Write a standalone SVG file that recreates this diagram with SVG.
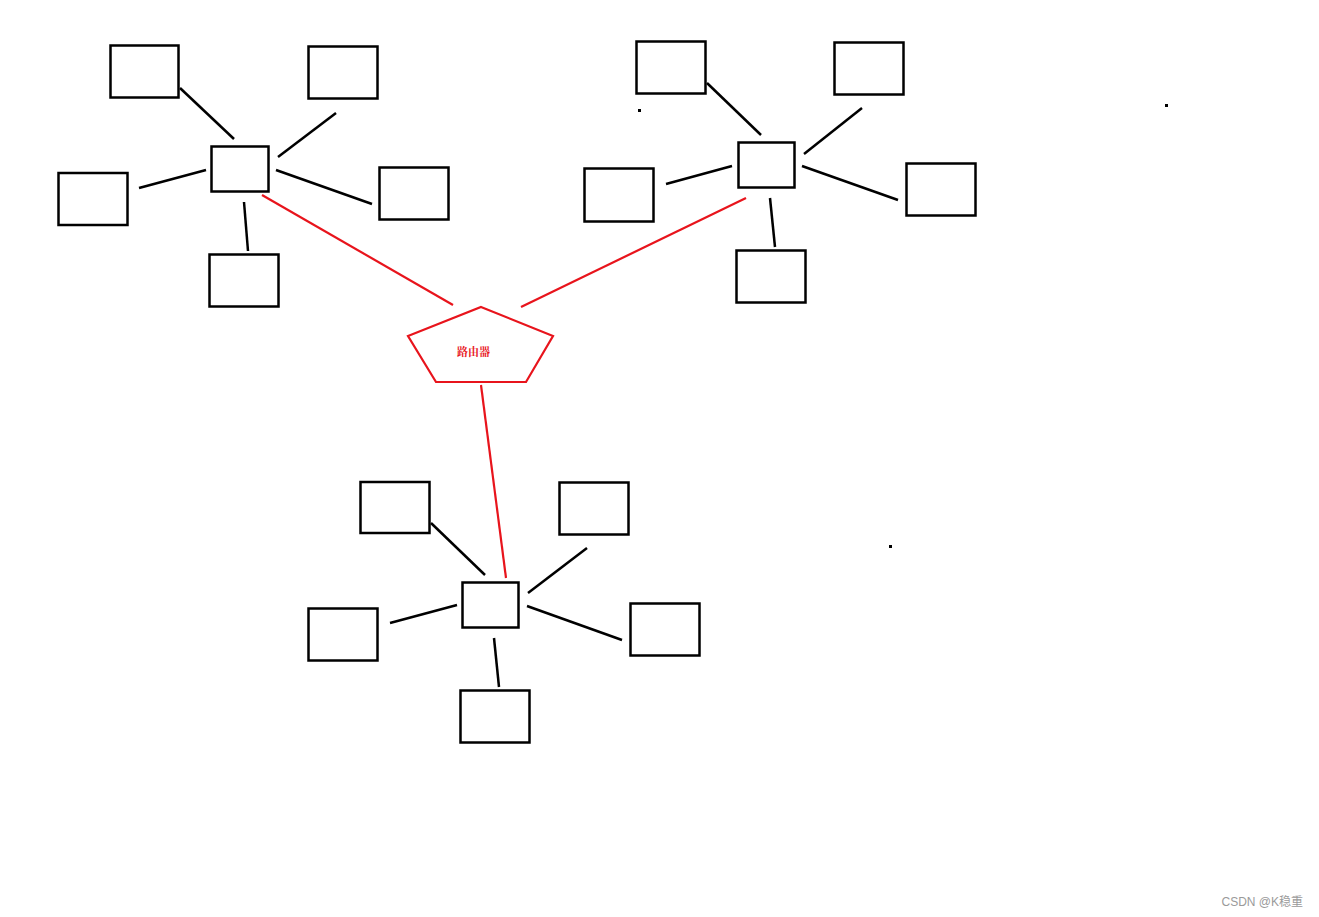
<svg xmlns="http://www.w3.org/2000/svg" width="1319" height="917" viewBox="0 0 1319 917">
<style>
.box{fill:#fff;stroke:#000;stroke-width:2.5}
.ln{stroke:#000;stroke-width:2.5;fill:none}
.rl{stroke:#e8141c;stroke-width:2.2;fill:none}
.dot{fill:#000}
</style>
<rect width="1319" height="917" fill="#fff"/>
<g id="connectors">
<line class="ln" x1="180" y1="88" x2="234" y2="139"/>
<line class="ln" x1="278" y1="157" x2="336" y2="113"/>
<line class="ln" x1="139" y1="188" x2="206" y2="170"/>
<line class="ln" x1="276" y1="170" x2="372" y2="204"/>
<line class="ln" x1="244" y1="202" x2="248" y2="251"/>
<line class="ln" x1="707" y1="83" x2="761" y2="135"/>
<line class="ln" x1="804" y1="154" x2="862" y2="108"/>
<line class="ln" x1="666" y1="184" x2="732" y2="166"/>
<line class="ln" x1="802" y1="166" x2="898" y2="200"/>
<line class="ln" x1="770" y1="198" x2="775" y2="247"/>
<line class="ln" x1="431" y1="523" x2="485" y2="575"/>
<line class="ln" x1="528" y1="593" x2="587" y2="548"/>
<line class="ln" x1="390" y1="623" x2="457" y2="605"/>
<line class="ln" x1="527" y1="606" x2="622" y2="640"/>
<line class="ln" x1="494" y1="638" x2="499" y2="687"/>
<line class="rl" x1="262" y1="195" x2="453" y2="305"/>
<line class="rl" x1="746" y1="198" x2="521" y2="307"/>
<line class="rl" x1="481" y1="385" x2="506" y2="578"/>
</g>
<g id="cluster1">
<rect id="n1-hub" class="box" x="211.5" y="146.5" width="57" height="45"/>
<rect id="n1-tl" class="box" x="110.5" y="45.5" width="68" height="52"/>
<rect id="n1-tr" class="box" x="308.5" y="46.5" width="69" height="52"/>
<rect id="n1-l" class="box" x="58.5" y="173" width="69" height="52"/>
<rect id="n1-r" class="box" x="379.5" y="167.5" width="69" height="52"/>
<rect id="n1-b" class="box" x="209.5" y="254.5" width="69" height="52"/>
</g>
<g id="cluster2">
<rect id="n2-hub" class="box" x="738.5" y="142.5" width="56" height="45"/>
<rect id="n2-tl" class="box" x="636.5" y="41.5" width="69" height="52"/>
<rect id="n2-tr" class="box" x="834.5" y="42.5" width="69" height="52"/>
<rect id="n2-l" class="box" x="584.5" y="168.5" width="69" height="53"/>
<rect id="n2-r" class="box" x="906.5" y="163.5" width="69" height="52"/>
<rect id="n2-b" class="box" x="736.5" y="250.5" width="69" height="52"/>
</g>
<g id="cluster3">
<rect id="n3-hub" class="box" x="462.5" y="582.5" width="56" height="45"/>
<rect id="n3-tl" class="box" x="360.5" y="482" width="69" height="51"/>
<rect id="n3-tr" class="box" x="559.5" y="482.5" width="69" height="52"/>
<rect id="n3-l" class="box" x="308.5" y="608.5" width="69" height="52"/>
<rect id="n3-r" class="box" x="630.5" y="603.5" width="69" height="52"/>
<rect id="n3-b" class="box" x="460.5" y="690.5" width="69" height="52"/>
</g>
<g id="router">
<polygon points="481,307 553,336 526,382 436,382 408,336" fill="#fff" stroke="#e8141c" stroke-width="2.2"/>
<text x="473.5" y="355.5" font-family="'Noto Serif CJK SC','Noto Sans CJK SC',serif" font-size="11" font-weight="bold" fill="#e8141c" text-anchor="middle">路由器</text>
</g>
<g id="dots">
<rect class="dot" x="638" y="109" width="3" height="3"/>
<rect class="dot" x="1165" y="104" width="3" height="3"/>
<rect class="dot" x="889" y="545" width="3" height="3"/>
</g>
<text x="1303" y="906" font-family="'Liberation Sans','Noto Sans CJK SC',sans-serif" font-size="12" fill="#9a9a9a" text-anchor="end">CSDN @K稳重</text>
</svg>
